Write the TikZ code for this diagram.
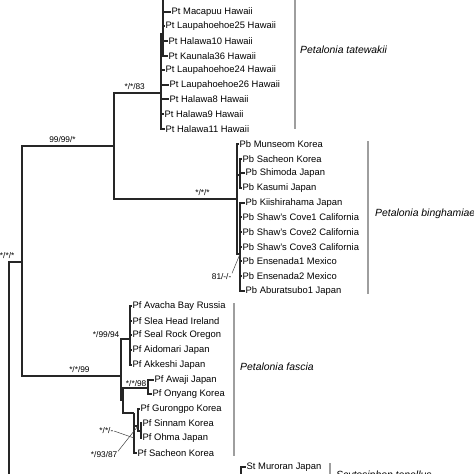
\documentclass[tikz,border=0pt]{standalone}
\usepackage{fontspec}
\setmainfont{Liberation Sans}
\usetikzlibrary{calc}

\begin{document}
\begin{tikzpicture}[x=1pt,y=-1pt]
\tikzset{branch/.style={draw=black!85, line width=1.4pt}, leader/.style={draw=black!75, line width=0.5pt}}
\tikzset{clade/.style={draw=black!38, line width=2.2pt}}
\tikzset{tip/.style={anchor=west, inner sep=0.5pt}, support/.style={inner sep=0.5pt, font=\fontsize{8.3}{9}\selectfont}}
\tikzset{species/.style={anchor=west, inner sep=0pt, font=\fontsize{10.4}{12}\selectfont\itshape}}
\tikzstyle{every node}=[font=\fontsize{9.4}{10}\selectfont]
\useasboundingbox (0,0) rectangle (474,474);
\clip (0,0) rectangle (474,474);

% internal nodes
\coordinate (root) at (9,262);
\coordinate (n1) at (22,262);
\coordinate (n2) at (114,146);
\coordinate (pt) at (161,93);
\coordinate (ptU) at (163,34);
\coordinate (pb) at (237,199);
\coordinate (pbA) at (240,175);
\coordinate (pbB) at (240,254);
\coordinate (pf) at (121,376);
\coordinate (pfA) at (130,339);
\coordinate (pfB) at (123,400);
\coordinate (pfC) at (148,388);
\coordinate (pfD) at (134,413);
\coordinate (pfE) at (138,426);
\coordinate (pfF) at (141,431);
\coordinate (st) at (241,500);
\coordinate (ptX) at (170,-4);

% tips
\node[tip] (ptMac) at (171,12) {Pt Macapuu Hawaii};
\node[tip] (ptLa25) at (165,26) {Pt Laupahoehoe25 Hawaii};
\node[tip] (ptHa10) at (168,41) {Pt Halawa10 Hawaii};
\node[tip] (ptKa36) at (168,56) {Pt Kaunala36 Hawaii};
\node[tip] (ptLa24) at (165,70) {Pt Laupahoehoe24 Hawaii};
\node[tip] (ptLa26) at (169,85) {Pt Laupahoehoe26 Hawaii};
\node[tip] (ptHa8) at (169,99) {Pt Halawa8 Hawaii};
\node[tip] (ptHa9) at (164,114) {Pt Halawa9 Hawaii};
\node[tip] (ptHa11) at (165,129) {Pt Halawa11 Hawaii};

\node[tip] (pbMun) at (239,144) {Pb Munseom Korea};
\node[tip] (pbSac) at (242,159) {Pb Sacheon Korea};
\node[tip] (pbShi) at (245,173) {Pb Shimoda Japan};
\node[tip] (pbKas) at (242,188) {Pb Kasumi Japan};
\node[tip] (pbKii) at (245,203) {Pb Kiishirahama Japan};
\node[tip] (pbSC1) at (242,217) {Pb Shaw's Cove1 California};
\node[tip] (pbSC2) at (242,232) {Pb Shaw's Cove2 California};
\node[tip] (pbSC3) at (242,247) {Pb Shaw's Cove3 California};
\node[tip] (pbEn1) at (242,261) {Pb Ensenada1 Mexico};
\node[tip] (pbEn2) at (242,276) {Pb Ensenada2 Mexico};
\node[tip] (pbAbu) at (245,291) {Pb Aburatsubo1 Japan};

\node[tip] (pfAva) at (132,306) {Pf Avacha Bay Russia};
\node[tip] (pfSle) at (132,321) {Pf Slea Head Ireland};
\node[tip] (pfSea) at (132,335) {Pf Seal Rock Oregon};
\node[tip] (pfAid) at (132,350) {Pf Aidomari Japan};
\node[tip] (pfAkk) at (132,365) {Pf Akkeshi Japan};
\node[tip] (pfAwa) at (154,380) {Pf Awaji Japan};
\node[tip] (pfOny) at (152,394) {Pf Onyang Korea};
\node[tip] (pfGur) at (140,409) {Pf Gurongpo Korea};
\node[tip] (pfSin) at (142,423) {Pf Sinnam Korea};
\node[tip] (pfOhm) at (142,438) {Pf Ohma Japan};
\node[tip] (pfSac) at (137,453) {Pf Sacheon Korea};

\node[tip] (stMur) at (246,467) {St Muroran Japan};

% backbone
\draw[branch] (n1) -- (root) |- (st);
\node[support, anchor=south east] at (15,259) {*/*/*};
\draw[branch] (n1) |- (n2) node[support, pos=0.72, above=2pt] {99/99/*};
\draw[branch] (n1) |- (pf) node[support, pos=0.79, above=2pt] {*/*/99};
\draw[branch] (n2) |- (pt) node[support, pos=0.72, above=2pt] {*/*/83};
\draw[branch] (n2) |- (pb) node[support, pos=0.86, above=2pt] {*/*/*};

% Petalonia tatewakii
\draw[branch] (pt) |- (ptU);
\draw[branch] (ptU) |- (ptX) (ptU) |- (ptMac.west) (ptU) |- (ptLa25.west) (ptU) |- (ptHa10.west) (ptU) |- (ptKa36.west);
\draw[branch] (pt) |- (ptLa24.west) (pt) |- (ptLa26.west) (pt) |- (ptHa8.west) (pt) |- (ptHa9.west) (pt) |- (ptHa11.west);

% Petalonia binghamiae
\draw[branch] (pb) |- (pbMun.west) (pb) |- (pbA) (pb) |- (pbB);
\draw[branch] (pbA) |- (pbSac.west) (pbA) |- (pbShi.west) (pbA) |- (pbKas.west);
\draw[branch] (pbB) |- (pbKii.west) (pbB) |- (pbSC1.west) (pbB) |- (pbSC2.west) (pbB) |- (pbSC3.west)
  (pbB) |- (pbEn1.west) (pbB) |- (pbEn2.west) (pbB) |- (pbAbu.west);
\node[support, anchor=east] (lbPb) at (232,277) {81/-/-};
\draw[leader] (lbPb.north east) -- (pbB);

% Petalonia fascia
\draw[branch] (pf) |- (pfA) (pf) |- (pfB);
\draw[branch] (pfA) |- (pfAva.west) (pfA) |- (pfSle.west) (pfA) |- (pfSea.west) (pfA) |- (pfAid.west) (pfA) |- (pfAkk.west);
\node[support, anchor=south east] at (120,338) {*/99/94};
\draw[branch] (pfB) |- (pfC) (pfB) |- (pfD);
\draw[branch] (pfC) |- (pfAwa.west) (pfC) |- (pfOny.west);
\node[support, anchor=south east] at (147,387) {*/*/98};
\draw[branch] (pfD) |- (pfSac.west) (pfD) |- (pfE);
\draw[branch] (pfE) |- (pfGur.west) (pfE) |- (pfF);
\draw[branch] (pfF) |- (pfSin.west) (pfF) |- (pfOhm.west);
\node[support, anchor=east] (lbA) at (114,431) {*/*/-};
\draw[leader] (lbA.east) -- (pfD |- pfOhm);
\node[support, anchor=east] (lbB) at (118,455) {*/93/87};
\draw[leader] (lbB.north east) -- (pfE);

% Scytosiphon
\draw[branch] (st) |- (stMur.west);

% species bars
\draw[clade] (295,-2) -- (295,129);
\node[species] at (300,50) {Petalonia tatewakii};
\draw[clade] (368,141) -- (368,294);
\node[species] at (375,214) {Petalonia binghamiae};
\draw[clade] (234,303) -- (234,456);
\node[species] at (240,367) {Petalonia fascia};
\draw[clade] (330,463) -- (330,480);
\node[species, anchor=base west] at (336,478) {Scytosiphon tenellus};
\end{tikzpicture}
\end{document}
